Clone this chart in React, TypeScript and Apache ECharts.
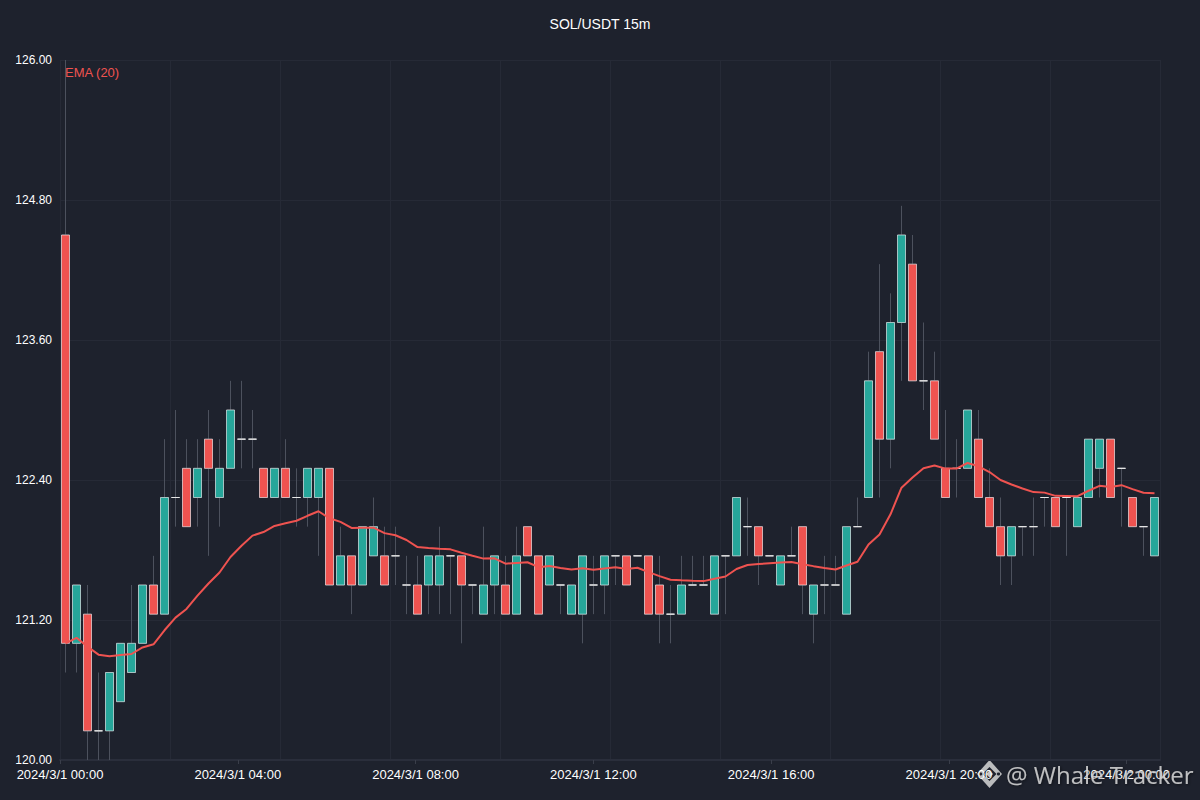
import React, { useEffect, useRef } from "react";
import * as echarts from "echarts";

const titleText = "SOL/USDT 15m";
const legendName = "EMA (20)";
const watermarkText = "@ Whale Tracker";

// one value per 15-minute candle
const opens = [
  124.5, 121, 121.25, 120.25, 120.25, 120.5, 120.75, 121, 121.5, 121.25,
  122.25, 122.5, 122.25, 122.75, 122.25, 122.5, 122.75, 122.75, 122.5, 122.25,
  122.5, 122.25, 122.25, 122.25, 122.5, 121.5, 121.75, 121.5, 121.75, 121.75,
  121.75, 121.5, 121.5, 121.5, 121.5, 121.75, 121.75, 121.5, 121.25, 121.5,
  121.5, 121.25, 122, 121.75, 121.5, 121.5, 121.25, 121.25, 121.5, 121.5,
  121.75, 121.75, 121.75, 121.75, 121.5, 121.25, 121.25, 121.5, 121.5, 121.25,
  121.75, 121.75, 122, 122, 121.75, 121.5, 121.75, 122, 121.25, 121.5,
  121.5, 121.25, 122, 122.25, 123.5, 122.75, 123.75, 124.25, 123.25, 123.25,
  122.5, 122.5, 122.5, 122.75, 122.25, 122, 121.75, 122, 122, 122.25,
  122.25, 122.25, 122, 122.25, 122.5, 122.75, 122.5, 122.25, 122, 121.75,
];
const closes = [
  121, 121.5, 120.25, 120.25, 120.75, 121, 121, 121.5, 121.25, 122.25,
  122.25, 122, 122.5, 122.5, 122.5, 123, 122.75, 122.75, 122.25, 122.5,
  122.25, 122.25, 122.5, 122.5, 121.5, 121.75, 121.5, 122, 122, 121.5,
  121.75, 121.5, 121.25, 121.75, 121.75, 121.75, 121.5, 121.5, 121.5, 121.75,
  121.25, 121.75, 121.75, 121.25, 121.75, 121.5, 121.5, 121.75, 121.5, 121.75,
  121.75, 121.5, 121.75, 121.25, 121.25, 121.25, 121.5, 121.5, 121.5, 121.75,
  121.75, 122.25, 122, 121.75, 121.75, 121.75, 121.75, 121.5, 121.5, 121.5,
  121.5, 122, 122, 123.25, 122.75, 123.75, 124.5, 123.25, 123.25, 122.75,
  122.25, 122.5, 123, 122.25, 122, 121.75, 122, 122, 122, 122.25,
  122, 122.25, 122.25, 122.75, 122.75, 122.25, 122.5, 122, 122, 122.25,
];
const lows = [
  120.75, 120.75, 120, 120, 120, 120.5, 120.75, 121, 121.25, 121.25,
  122, 122, 122, 121.75, 122, 122.5, 122.5, 122.5, 122.25, 122.25,
  122.25, 122, 122, 121.75, 121.5, 121.5, 121.25, 121.5, 121.75, 121.5,
  121.5, 121.25, 121.25, 121.25, 121.25, 121.25, 121, 121.25, 121.25, 121.25,
  121.25, 121.25, 121.75, 121.25, 121.5, 121.25, 121.25, 121, 121.25, 121.25,
  121.5, 121.5, 121.75, 121.25, 121, 121, 121.25, 121.5, 121.5, 121.25,
  121.25, 121.75, 121.75, 121.5, 121.75, 121.5, 121.75, 121.25, 121, 121.25,
  121.5, 121.25, 122, 122.25, 122.25, 122.5, 123.25, 123.25, 123, 122.75,
  122.25, 122.25, 122.5, 122.25, 122, 121.5, 121.5, 121.75, 121.75, 122,
  122, 121.75, 122, 122.25, 122.25, 122.25, 122, 122, 121.75, 121.75,
];
const highs = [
  126, 121.5, 121.5, 120.75, 120.75, 121, 121.5, 121.5, 121.75, 122.75,
  123, 122.75, 122.75, 123, 122.75, 123.25, 123.25, 123, 122.5, 122.5,
  122.75, 122.5, 122.5, 122.5, 122.5, 122, 121.75, 122, 122.25, 122,
  122, 121.75, 121.75, 121.75, 122, 121.75, 121.75, 121.5, 122, 121.75,
  121.75, 122, 122, 121.75, 121.75, 121.5, 121.5, 121.75, 121.75, 121.75,
  121.75, 121.75, 121.75, 121.75, 121.75, 121.5, 121.75, 121.75, 121.75, 121.75,
  121.75, 122.25, 122.25, 122, 121.75, 121.75, 122, 122, 121.5, 121.75,
  121.75, 122, 122.25, 123.5, 124.25, 124, 124.75, 124.5, 123.75, 123.5,
  123, 122.75, 123, 123, 122.5, 122.25, 122, 122, 122.25, 122.25,
  122.25, 122.25, 122.25, 122.75, 122.75, 122.75, 122.5, 122.25, 122, 122.25,
];

// candle open times, 15 minutes apart, shown as "2024/3/1 00:00"
const firstCandleUtc = Date.UTC(2024, 2, 1, 0, 0, 0);
const CANDLE_MINUTES = 15;
const pad = (n: number) => String(n).padStart(2, "0");
const categories = opens.map((_, i) => {
  const d = new Date(firstCandleUtc + i * CANDLE_MINUTES * 60 * 1000);
  return `${d.getUTCFullYear()}/${d.getUTCMonth() + 1}/${d.getUTCDate()} ${pad(d.getUTCHours())}:${pad(d.getUTCMinutes())}`;
});

const EMA_PERIOD = 20;

export default function App() {
  const ref = useRef<HTMLDivElement>(null);

  useEffect(() => {
    if (!ref.current) return;
    const chart = echarts.init(ref.current, undefined, { renderer: "svg" });

    const wickRows = opens.map((o, i) => [o, closes[i], lows[i], highs[i]]);
    const bodyRows = opens.map((o, i) => [o, closes[i], Math.min(o, closes[i]), Math.max(o, closes[i])]);
    // EMA(20) indicator of the closes, as the chart plots it
    const alpha = 2 / (EMA_PERIOD + 1);
    const ema: number[] = [];
    closes.forEach((c, i) => {
      ema.push(i === 0 ? c : ema[i - 1] + alpha * (c - ema[i - 1]));
    });

    const yMin = Math.min(...lows);
    const yMax = Math.max(...highs);
    const yInterval = (yMax - yMin) / 5;

    const grid = "#262a36";

    chart.setOption({
      animation: false,
      backgroundColor: "#1e222d",
      title: {
        text: titleText,
        left: "center",
        top: 12,
        textStyle: { color: "#ffffff", fontSize: 14, fontWeight: "normal" },
      },
      legend: {
        data: [{ name: legendName, icon: "none" }],
        left: 60,
        top: 65,
        padding: 0,
        itemWidth: 0,
        itemGap: 0,
        textStyle: { color: "#ef5350", fontSize: 13 },
      },
      grid: { left: 60, right: 40, top: 60, bottom: 40 },
      xAxis: [
        {
          type: "category",
          data: categories,
          boundaryGap: true,
          axisLine: { show: true, lineStyle: { color: "#2a2e3b", width: 2 } },
          axisTick: { show: false },
          axisLabel: { show: false },
          splitLine: { show: true, interval: 9, lineStyle: { color: grid } },
        },
        {
          type: "category",
          data: categories,
          boundaryGap: false,
          position: "bottom",
          axisLine: { show: false },
          axisTick: { show: true, interval: 15, length: 4, lineStyle: { color: "#3a3e4a" } },
          axisLabel: { interval: 15, color: "#ffffff", fontSize: 13, margin: 8 },
          splitLine: { show: false },
        },
      ],
      yAxis: {
        type: "value",
        min: yMin,
        max: yMax,
        interval: yInterval,
        axisLine: { show: false },
        axisTick: { show: false },
        axisLabel: {
          color: "#ffffff",
          fontSize: 12,
          formatter: (v: number) => v.toFixed(2),
        },
        splitLine: { show: true, lineStyle: { color: grid } },
      },
      series: [
        {
          type: "candlestick",
          name: "wick",
          xAxisIndex: 0,
          data: wickRows,
          barWidth: 9,
          silent: true,
          itemStyle: {
            color: "transparent",
            color0: "transparent",
            borderColor: "#4c515d",
            borderColor0: "#4c515d",
            borderColorDoji: "#4c515d",
            borderWidth: 1,
          },
        },
        {
          type: "candlestick",
          name: "body",
          xAxisIndex: 0,
          data: bodyRows,
          barWidth: 9,
          itemStyle: {
            color: "#26a69a",
            color0: "#ef5350",
            borderColor: "rgba(255,255,255,0.55)",
            borderColor0: "rgba(255,255,255,0.55)",
            borderColorDoji: "#e8e8e8",
            borderWidth: 1,
          },
        },
        {
          type: "line",
          name: legendName,
          xAxisIndex: 0,
          data: ema,
          showSymbol: false,
          symbol: "none",
          lineStyle: { color: "#ef5350", width: 2 },
          itemStyle: { color: "#ef5350" },
          z: 5,
        },
      ],
      graphic: [
        {
          type: "group",
          x: 989.5,
          y: 774,
          z: 100,
          children: [
            {
              type: "polygon",
              shape: { points: [[0, -14], [12.5, 0], [0, 14], [-12.5, 0]] },
              style: { fill: "rgba(215,215,215,0.85)" },
            },
            {
              type: "polygon",
              shape: { points: [[0, -7], [7, 0], [0, 7], [-7, 0]] },
              style: { fill: "#1e222d" },
            },
            {
              type: "polygon",
              shape: { points: [[0, -3.5], [3.5, 0], [0, 3.5], [-3.5, 0]] },
              style: { fill: "rgba(215,215,215,0.9)" },
            },
            { type: "circle", shape: { cx: -9, cy: 0, r: 1.6 }, style: { fill: "#1e222d" } },
            { type: "circle", shape: { cx: 9, cy: 0, r: 1.6 }, style: { fill: "#1e222d" } },
          ],
        },
        {
          type: "text",
          x: 1006,
          y: 774,
          z: 100,
          style: {
            text: watermarkText,
            fontSize: 24,
            fontFamily: "Open Sans",
            fill: "rgba(215,215,215,0.85)",
            verticalAlign: "middle",
            textShadowColor: "rgba(0,0,0,0.6)",
            textShadowBlur: 3,
            textShadowOffsetX: 1,
            textShadowOffsetY: 1,
          },
        },
      ],
    });

    return () => chart.dispose();
  }, []);

  return (
    <div
      ref={ref}
      style={{ position: "fixed", left: 0, top: 0, width: 1200, height: 800 }}
    />
  );
}
